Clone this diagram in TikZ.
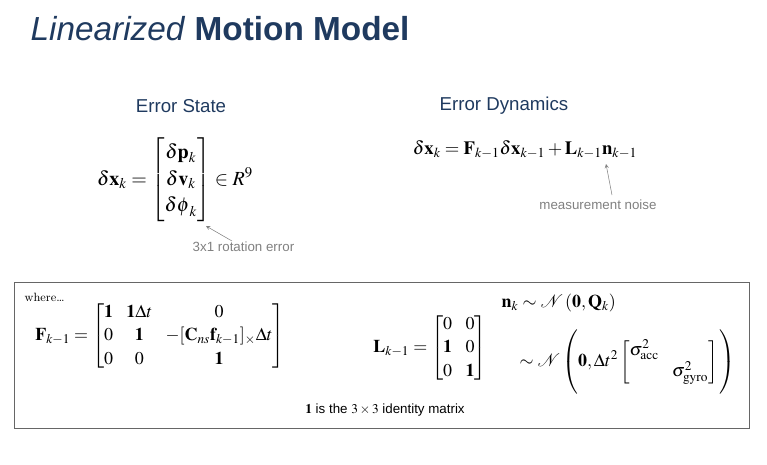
\documentclass[tikz,border=0pt]{standalone}
\usepackage{amsmath}
\usepackage{mathptmx}
\usepackage{fontspec}
\setsansfont{Liberation Sans}
\definecolor{hd}{HTML}{1F3A5F}
\definecolor{gy}{HTML}{808080}
\begin{document}
\begin{tikzpicture}[x=0.75pt,y=-0.75pt,
  head/.style={font=\sffamily\fontsize{14}{16}\selectfont,text=hd},
  note/.style={font=\sffamily\fontsize{10}{12}\selectfont,text=gy},
  eq/.style={font=\fontsize{15}{18}\selectfont},
  deq/.style={font=\fontsize{14}{17}\selectfont},
  beq/.style={font=\fontsize{13.5}{16}\selectfont},
  ptr/.style={draw=gy,->,>=stealth}]
\useasboundingbox (0,0) rectangle (767,464);
\node[anchor=base west,font=\sffamily\fontsize{25}{28}\selectfont,text=hd] (title) at (26,40) {\textit{Linearized} \textbf{Motion Model}};
\node[head] (es) at (181,106) {Error State};
\node[head] (ed) at (504,106) {Error Dynamics};
\node[eq] (xs) at (175,180) {\renewcommand{\arraystretch}{1.1}$\delta\mathbf{x}_k=\begin{bmatrix}\delta\mathbf{p}_k\\ \delta\mathbf{v}_k\\ \delta\boldsymbol{\phi}_k\end{bmatrix}\in R^9$};
\node[note,anchor=west] (rot) at (188,247) {3x1 rotation error};
\coordinate (rs) at (232,241);
\coordinate (rt) at (206,226);
\draw[ptr] (rs) -- (rt);
\node[deq] (dyn) at (525,150) {$\delta\mathbf{x}_k=\mathbf{F}_{k-1}\delta\mathbf{x}_{k-1}+\mathbf{L}_{k-1}\mathbf{n}_{k-1}$};
\node[note] (mn) at (598,205) {measurement noise};
\coordinate (ms) at (612,195);
\coordinate (mt) at (606,164);
\draw[ptr] (ms) -- (mt);
\node[draw=gray!80!black,line width=0.8pt,minimum width=735*0.75pt,minimum height=146*0.75pt,anchor=north west] (box) at (14,282) {};
\node[anchor=north west,font=\fontsize{9}{10}\selectfont] (wh) at (20,288) {where\ldots};
\node[beq] (F) at (160,336) {\renewcommand{\arraystretch}{1.1}$\mathbf{F}_{k-1}=\begin{bmatrix}\mathbf{1}&\mathbf{1}\Delta t&0\\0&\mathbf{1}&-[\mathbf{C}_{ns}\mathbf{f}_{k-1}]_{\times}\Delta t\\0&0&\mathbf{1}\end{bmatrix}$};
\node[beq] (L) at (430,348) {\renewcommand{\arraystretch}{1.1}$\mathbf{L}_{k-1}=\begin{bmatrix}0&0\\\mathbf{1}&0\\0&\mathbf{1}\end{bmatrix}$};
\node[beq,anchor=west] (n1) at (497,303) {$\mathbf{n}_k\sim\mathcal{N}\left(\mathbf{0},\mathbf{Q}_k\right)$};
\node[beq,anchor=west] (n2) at (515,362) {$\sim\mathcal{N}\left(\mathbf{0},\Delta t^2\begin{bmatrix}\sigma^2_{\mathrm{acc}}&\\&\sigma^2_{\mathrm{gyro}}\end{bmatrix}\vphantom{\begin{bmatrix}1\\1\\1\end{bmatrix}}\right)$};
\node[font=\sffamily\fontsize{10}{12}\selectfont] (id) at (385,410) {$\mathbf{1}$ is the $3\times3$ identity matrix};
\end{tikzpicture}
\end{document}
